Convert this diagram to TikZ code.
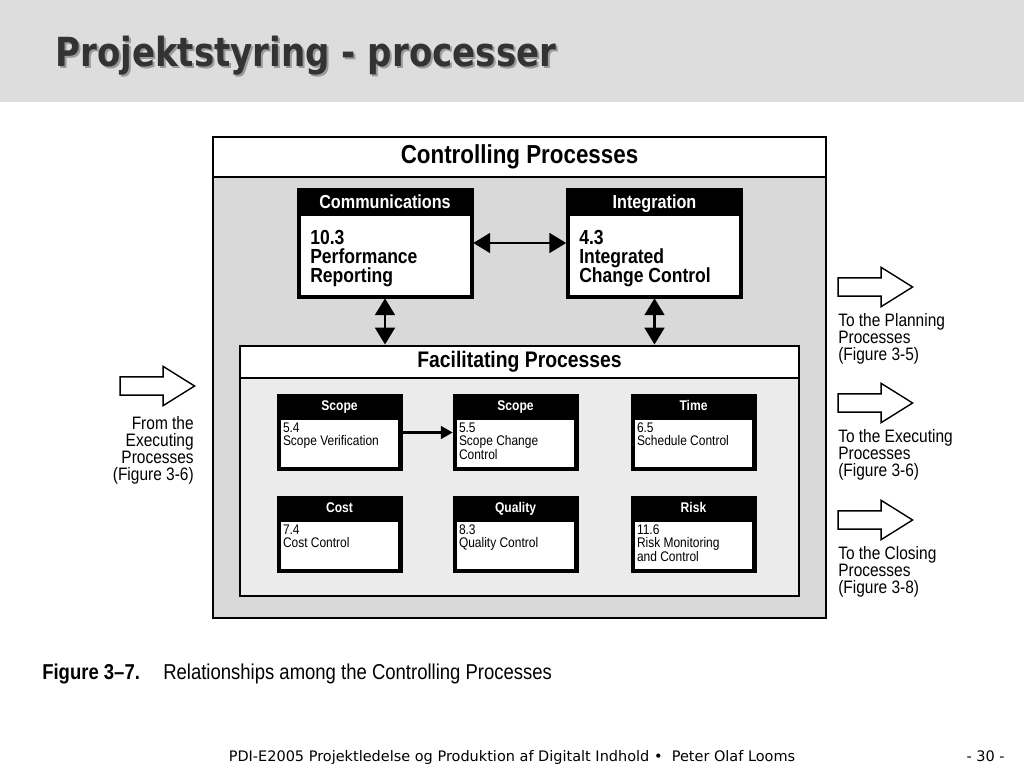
\documentclass[tikz,border=0pt]{standalone}
\usepackage{fontspec}
\setmainfont{Liberation Sans}[FakeStretch=0.86]
\newfontfamily\titlefont{DejaVu Sans}[FakeStretch=0.85]
\newfontfamily\footfont{DejaVu Sans}
\usepackage{tikz}
\usetikzlibrary{arrows.meta,shapes.arrows,positioning}

\definecolor{bandgray}{HTML}{DDDDDD}
\definecolor{ctrlgray}{HTML}{D9D9D9}
\definecolor{facilgray}{HTML}{EBEBEB}
\definecolor{titleink}{HTML}{333333}
\definecolor{titleshade}{HTML}{9A9A9A}

\newcommand{\pxl}{0.025cm}
% small process box: name, x, y, header, body
\newcommand{\procbox}[5]{%
  \node[blackbox, minimum width=125*\pxl, minimum height=76*\pxl] (#1) at (#2,#3) {};
  \node[whitebody, minimum width=117*\pxl, minimum height=47*\pxl, anchor=north west]
      (#1body) at ([xshift=4*\pxl, yshift=-25*\pxl]#1.north west) {};
  \node[smallhdr] (#1hdr) at ([yshift=-16.5*\pxl]#1.north) {#4};
  \node[smallbody] (#1txt) at ([xshift=2*\pxl, yshift=-3*\pxl]#1body.north west) {#5};}

\begin{document}
\begin{tikzpicture}
[x=\pxl, y=-\pxl,
 frame/.style={draw, line width=2.1pt, inner sep=0pt},
 strip/.style={draw, fill=white, line width=2.1pt, inner sep=0pt},
 blackbox/.style={fill=black, draw=black, inner sep=0pt},
 whitebody/.style={fill=white, inner sep=0pt},
 bighdr/.style={anchor=base, inner sep=0pt, text=white, font=\fontsize{13.4pt}{15pt}\selectfont\bfseries},
 bigbody/.style={anchor=north west, align=left, inner sep=0pt,
   font=\fontsize{14.5pt}{13.6pt}\selectfont\bfseries},
 smallhdr/.style={anchor=base, inner sep=0pt, text=white, font=\fontsize{10pt}{12pt}\selectfont\bfseries},
 smallbody/.style={anchor=north west, align=left, inner sep=0pt,
   font=\fontsize{9.9pt}{9.6pt}\selectfont},
 sidetext/.style={align=left, inner sep=0pt, font=\fontsize{12.8pt}{12.1pt}\selectfont},
 dbl/.style={{Triangle[length=12pt, width=14pt]}-{Triangle[length=12pt, width=14pt]}, line width=2pt},
 fwd/.style={-{Triangle[length=8.5pt, width=9pt]}, line width=2pt},
 flow/.style={single arrow, draw, line width=1pt, fill=white, inner xsep=0pt, inner ysep=6pt,
   minimum height=53pt, single arrow head extend=7.5pt, single arrow tip angle=64}]
    \useasboundingbox (0,0) rectangle (1024,768);
    \fill[bandgray] (0,0) rectangle (1024,102);
    \node[anchor=base west, inner sep=0pt, text=titleshade, font=\fontsize{28.5pt}{30pt}\titlefont\bfseries]
        (titleshadow) at (57,69) {Projektstyring - processer};
    \node[anchor=base west, inner sep=0pt, text=titleink, font=\fontsize{28.5pt}{30pt}\titlefont\bfseries]
        (title) at (55,67) {Projektstyring - processer};

    \node[frame, fill=ctrlgray, minimum width=613*\pxl, minimum height=481*\pxl] (ctrl) at (519.5,377.5) {};
    \node[strip, minimum width=613*\pxl, minimum height=40*\pxl, anchor=north,
        font=\fontsize{18.5pt}{20pt}\selectfont\bfseries] (ctrltitle) at (ctrl.north) {Controlling Processes};

    \node[blackbox, minimum width=176*\pxl, minimum height=110*\pxl] (comm) at (385,243) {};
    \node[whitebody, minimum width=169*\pxl, minimum height=79*\pxl, anchor=north] (commbody) at (385,216) {};
    \node[bighdr] (commhdr) at (385,208.5) {Communications};
    \node[bigbody] (commtxt) at (310,230) {10.3\\Performance\\Reporting};

    \node[blackbox, minimum width=176*\pxl, minimum height=110*\pxl] (integ) at (654.5,243) {};
    \node[whitebody, minimum width=169*\pxl, minimum height=79*\pxl, anchor=north] (integbody) at (654.5,216) {};
    \node[bighdr] (integhdr) at (654.5,208.5) {Integration};
    \node[bigbody] (integtxt) at (579,230) {4.3\\Integrated\\Change Control};

    \node[frame, fill=facilgray, minimum width=559*\pxl, minimum height=250*\pxl] (facil) at (519.5,471) {};
    \node[strip, minimum width=559*\pxl, minimum height=32*\pxl, anchor=north,
        font=\fontsize{16pt}{18pt}\selectfont\bfseries] (faciltitle) at (facil.north) {Facilitating Processes};

    \procbox{scope54}{339.5}{432.5}{Scope}{5.4\\Scope Verification}
    \procbox{scope55}{515.5}{432.5}{Scope}{5.5\\Scope Change\\Control}
    \procbox{time65}{693.5}{432.5}{Time}{6.5\\Schedule Control}
    \procbox{cost74}{339.5}{534.5}{Cost}{7.4\\Cost Control}
    \procbox{qual83}{515.5}{534.5}{Quality}{8.3\\Quality Control}
    \procbox{risk116}{693.5}{534.5}{Risk}{11.6\\Risk Monitoring\\and Control}

    \draw[dbl] (comm.east) -- (integ.west);
    \draw[dbl] (comm.south) -- (comm.south |- facil.north);
    \draw[dbl] (integ.south) -- (integ.south |- facil.north);
    \draw[fwd] (scope54.east) -- (scope55.west);

    % in and out of the controlling processes
    \node[flow] (fromexec) at (150,386) {};
    \node[sidetext, align=right, anchor=north east] (fromtext) at (194,416)
        {From the\\Executing\\Processes\\(Figure 3-6)};
    \node[flow] (toplan) at (868,287) {};
    \node[sidetext, anchor=north west] (plantext) at (838,313) {To the Planning\\Processes\\(Figure 3-5)};
    \node[flow] (toexec) at (868,403) {};
    \node[sidetext, anchor=north west] (exectext) at (838,429) {To the Executing\\Processes\\(Figure 3-6)};
    \node[flow] (toclose) at (868,520) {};
    \node[sidetext, anchor=north west] (closetext) at (838,546) {To the Closing\\Processes\\(Figure 3-8)};

    \node[anchor=base west, inner sep=0pt, font=\fontsize{15.3pt}{17pt}\selectfont\bfseries]
        (figno) at (42,679) {Figure 3--7.};
    \node[anchor=base west, inner sep=0pt, font=\fontsize{15.3pt}{17pt}\selectfont]
        (caption) at (163,679) {Relationships among the Controlling Processes};

    \node[anchor=base, inner sep=0pt, font=\fontsize{10.3pt}{12pt}\footfont] (footer) at (512,761)
        {PDI-E2005 Projektledelse og Produktion af Digitalt Indhold \textbullet\ \ Peter Olaf Looms};
    \node[anchor=base east, inner sep=0pt, font=\fontsize{10.3pt}{12pt}\footfont] (pageno) at (1005,761) {- 30 -};
\end{tikzpicture}
\end{document}
